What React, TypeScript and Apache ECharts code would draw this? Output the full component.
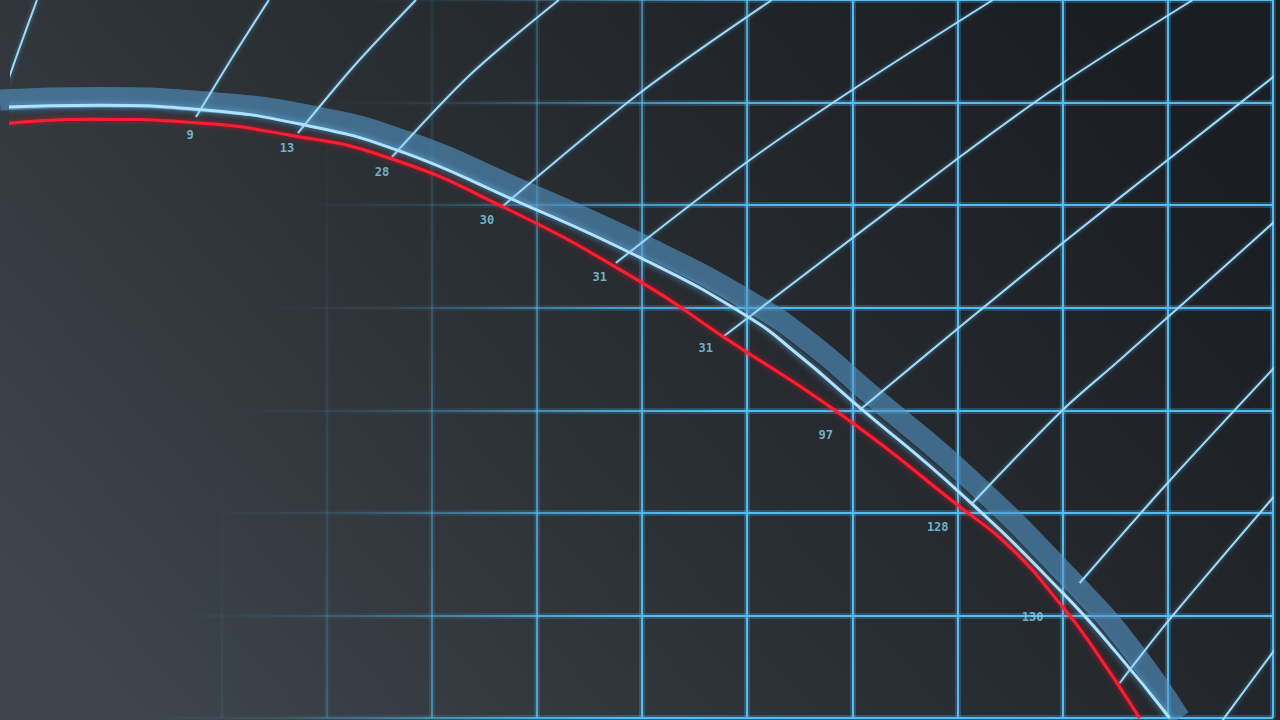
import React, { useEffect, useRef } from "react";
import * as echarts from "echarts";

// Curve values in grid units (x: 0..12 columns, y: 0..7 rows)
const redCurve: [number, number][] = [
  [-0.105, 5.789], [0.751, 5.838], [1.683, 5.809], [2.652, 5.682], [3.546, 5.477],
  [4.667, 4.989], [5.979, 4.257], [6.768, 3.72], [7.918, 2.939], [9.021, 2.06],
  [9.496, 1.669], [10.0, 1.084], [10.285, 0.693], [10.732, 0.0],
];
const blueCurve: [number, number][] = [
  [-0.105, 5.955], [0.846, 5.975], [1.759, 5.936], [2.842, 5.77], [3.698, 5.526],
  [4.705, 5.086], [5.979, 4.491], [6.996, 3.919], [7.5, 3.529], [8.032, 3.061],
  [9.021, 2.197], [10.0, 1.22], [10.513, 0.635], [11.017, 0.0],
];
const blueBand: [number, number][] = [
  [-0.105, 6.025], [0.846, 6.049], [1.797, 6.01], [2.88, 5.867], [3.755, 5.623],
  [4.772, 5.184], [6.055, 4.589], [7.082, 4.027], [7.614, 3.646], [8.146, 3.178],
  [9.144, 2.304], [10.114, 1.308], [10.618, 0.722], [11.112, 0.0],
];
const fanLines: [number, number][][] = [
  [[-0.105, 5.986], [0.067, 6.493], [0.247, 7.0]],
  [[1.759, 5.859], [2.101, 6.435], [2.452, 7.0]],
  [[2.728, 5.703], [3.27, 6.366], [3.85, 7.0]],
  [[3.622, 5.469], [4.363, 6.269], [5.209, 7.0]],
  [[4.667, 4.982], [5.979, 6.093], [7.234, 7.0]],
  [[5.751, 4.436], [7.025, 5.44], [8.07, 6.171], [9.335, 7.0]],
  [[6.768, 3.715], [9.021, 5.47], [10.0, 6.191], [11.236, 7.0]],
  [[8.07, 3.003], [9.021, 3.812], [10.0, 4.631], [10.998, 5.44], [12.063, 6.298]],
  [[9.144, 2.096], [10.0, 3.003], [10.542, 3.49], [12.063, 4.884]],
  [[10.162, 1.316], [10.998, 2.291], [12.063, 3.471]],
  [[10.542, 0.341], [11.036, 0.985], [12.063, 2.223]],
  [[11.521, -0.02], [12.063, 0.731]],
];
const labelX = [1.702, 2.624, 3.527, 4.525, 5.599, 6.606, 7.747, 8.812, 9.715];
const labelY = [5.684, 5.557, 5.323, 4.855, 4.3, 3.607, 2.759, 1.862, 0.985];
const labelText = ["9", "13", "28", "30", "31", "31", "97", "128", "130"];

function fade(scale: number) {
  const c = (a: number) => `rgba(82,188,244,${(a * scale).toFixed(3)})`;
  return new echarts.graphic.LinearGradient(
    0, 0, 1000, 300,
    [
      { offset: 0, color: c(0) },
      { offset: 0.33, color: c(0) },
      { offset: 0.45, color: c(0.12) },
      { offset: 0.55, color: c(0.4) },
      { offset: 0.65, color: c(0.72) },
      { offset: 0.77, color: c(1) },
      { offset: 1, color: c(1) },
    ],
    true
  );
}

export default function App() {
  const ref = useRef<HTMLDivElement>(null);
  useEffect(() => {
    if (!ref.current) return;
    const chart = echarts.init(ref.current, null, { renderer: "svg" });
    const hidden = { show: false };
    const axisBase = (max: number, width: number, scale: number, grid: number) => ({
      type: "value", min: 0, max, interval: 1, gridIndex: grid,
      axisLine: hidden, axisTick: hidden, axisLabel: hidden,
      splitLine: { show: true, lineStyle: { color: fade(scale), width } },
    });
    const labelData = labelX.map((x, i) => [x, labelY[i], labelText[i]]);
    const series: any[] = [
      {
        type: "line", data: blueBand, smooth: 0.5, symbol: "none", clip: false, z: 2,
        lineStyle: { width: 21, color: "rgba(84,150,200,0.6)", cap: "butt" },
        silent: true,
      },
      ...fanLines.map((pts) => ({
        type: "line", data: pts, smooth: 0.3, symbol: "none", clip: false, z: 3,
        lineStyle: { width: 2, color: "#a0daf5", shadowBlur: 4, shadowColor: "rgba(90,180,240,0.6)" },
        silent: true,
      })),
      {
        type: "line", data: blueCurve, smooth: 0.5, symbol: "none", clip: false, z: 4,
        lineStyle: { width: 3, color: "#aee3ff", shadowBlur: 6, shadowColor: "rgba(100,190,255,0.8)" },
      },
      {
        type: "line", data: redCurve, smooth: 0.5, symbol: "none", clip: false, z: 5,
        lineStyle: { width: 3, color: "#ff1e2e", shadowBlur: 5, shadowColor: "rgba(255,20,40,0.7)" },
      },
      {
        type: "scatter", data: labelData, symbolSize: 1, z: 6,
        itemStyle: { color: "transparent" },
        label: {
          show: true, position: "inside", formatter: (p: any) => p.value[2],
          color: "#86d4ec", fontSize: 12, fontWeight: "bold", fontFamily: "DejaVu Sans Mono",
        },
      },
    ];
    const gridPos = { left: 11, right: 7, top: 0, bottom: 2 };
    chart.setOption({
      animation: false,
      backgroundColor: new echarts.graphic.LinearGradient(0, 0.8, 1, 0.3, [
        { offset: 0, color: "#3e454c" },
        { offset: 0.45, color: "#2b3035" },
        { offset: 1, color: "#1a1d21" },
      ]),
      grid: [gridPos, gridPos],
      xAxis: [axisBase(12, 2, 1, 0), axisBase(12, 6, 0.25, 1)],
      yAxis: [axisBase(7, 2, 1, 0), axisBase(7, 6, 0.25, 1)],
      series,
    });
    return () => chart.dispose();
  }, []);
  return (
    <div
      ref={ref}
      style={{ position: "absolute", left: 0, top: 0, width: 1280, height: 720 }}
    />
  );
}
